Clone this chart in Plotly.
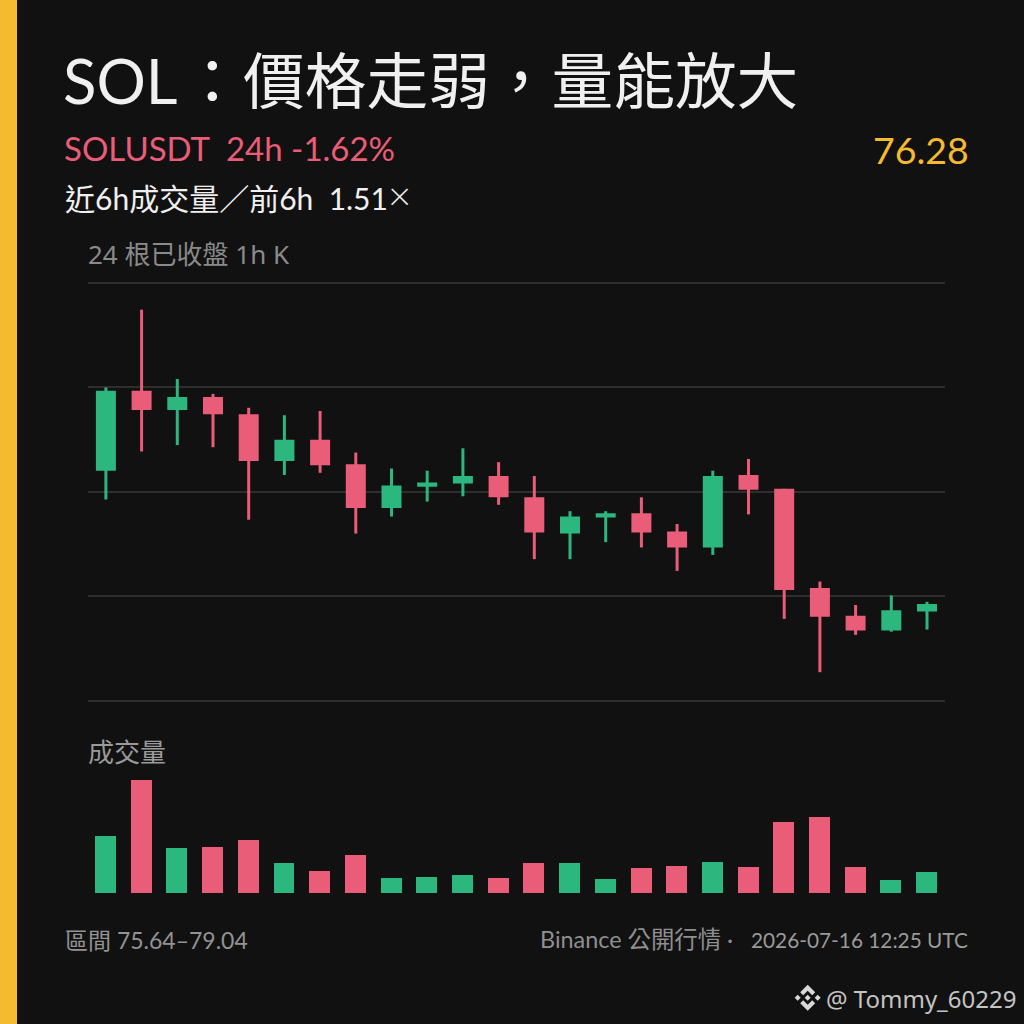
import plotly.graph_objects as go

hours = list(range(24))
opens = [77.53,78.28,78.10,78.22,78.06,77.62,77.82,77.59,77.18,77.38,77.41,77.48,77.28,76.94,77.09,77.13,76.96,76.81,77.49,77.36,76.43,76.17,76.03,76.21]
highs = [78.31,79.04,78.39,78.25,78.12,78.05,78.09,77.70,77.55,77.53,77.74,77.61,77.48,77.15,77.15,77.28,77.03,77.53,77.64,77.36,76.49,76.27,76.36,76.30]
lows = [77.26,77.71,77.77,77.75,77.07,77.49,77.51,76.94,77.10,77.24,77.29,77.21,76.70,76.70,76.86,76.81,76.59,76.74,77.12,76.14,75.64,75.99,76.02,76.04]
closes = [78.28,78.10,78.22,78.06,77.62,77.82,77.58,77.18,77.39,77.42,77.48,77.28,76.95,77.10,77.13,76.95,76.81,77.48,77.35,76.41,76.16,76.03,76.22,76.28]
volumes = [57,113,45,46,53,30,22,38,15,16,18,15,30,30,14,25,27,31,26,71,76,26,13,21]
price_ticks = [75.37,76.355,77.33,78.315,79.29]

BG = "#111111"; GREEN = "#2CB77F"; RED = "#EA5D78"; YELLOW = "#F5BB30"; GRID = "#2E2E2E"
LATIN = "Lato, 'Noto Sans CJK TC', sans-serif"
NOTO = "'Noto Sans', 'Noto Sans CJK TC', sans-serif"

def px(x): return x / 1024
def py(y): return 1 - y / 1024

fig = go.Figure()

# wicks
for color, test in ((GREEN, lambda o, c: c >= o), (RED, lambda o, c: c < o)):
    wx, wy = [], []
    for h, o, hi, lo, c in zip(hours, opens, highs, lows, closes):
        if test(o, c):
            wx += [h, h, None]; wy += [lo, hi, None]
    fig.add_trace(go.Scatter(x=wx, y=wy, mode="lines", line=dict(color=color, width=3),
                             xaxis="x", yaxis="y", hoverinfo="skip", showlegend=False))

fig.add_trace(go.Candlestick(
    x=hours, open=opens, high=highs, low=lows, close=closes, xaxis="x", yaxis="y",
    increasing=dict(line=dict(color=GREEN, width=0), fillcolor=GREEN),
    decreasing=dict(line=dict(color=RED, width=0), fillcolor=RED),
    showlegend=False))

fig.add_trace(go.Bar(
    x=hours, y=volumes, width=0.588, xaxis="x2", yaxis="y2", showlegend=False,
    marker=dict(color=[GREEN if c >= o else RED for o, c in zip(opens, closes)], line=dict(width=0))))

def note(text, x, y, size, color, family=LATIN, anchor="left"):
    fig.add_annotation(text=text, x=px(x), y=py(y), xref="paper", yref="paper", showarrow=False,
                       xanchor=anchor, yanchor="middle", align=anchor,
                       font=dict(size=size, color=color, family=family))

note("SOL\u200a：價格走弱，量能放大", 61, 80, 61.7, "#F0F0F0")
note("SOLUSDT  24h -1.62%", 62, 148, 33, RED)
note("76.28", 971, 149, 37.5, YELLOW, anchor="right")
note("近6h成交量／前6h  1.51<span style=\"font-size:40px;font-weight:300\">×</span>", 63, 195, 30, "#F0F0F0")
note("24 根已收盤 1h K", 86, 254, 26, "#8A8A8A", NOTO)
note("成交量", 86, 752, 26, "#9A9A9A", NOTO)
note("區間 75.64–79.04", 63, 940, 23, "#939393")
note("Binance 公開行情 ·", 735, 939, 23.4, "#8F8F8F", anchor="right")
note("2026-07-16 12:25 UTC", 970, 939, 20.8, "#9A9A9A", anchor="right")
note("@ Tommy_60229", 1018, 998, 24, "#C4C4C4", NOTO, anchor="right")

shapes = [dict(type="rect", xref="paper", yref="paper", x0=0, x1=px(17), y0=0, y1=1,
               fillcolor=YELLOW, line=dict(width=0), layer="below")]
cx, cy = 807.7, 997.7
logo_parts = [
    [(0,-13),(7.5,-5.5),(4.5,-2.5),(0,-7),(-4.5,-2.5),(-7.5,-5.5)],
    [(0,13),(7.5,5.5),(4.5,2.5),(0,7),(-4.5,2.5),(-7.5,5.5)],
    [(-13,0),(-10,-3),(-7,0),(-10,3)],
    [(13,0),(10,-3),(7,0),(10,3)],
    [(0,-3),(3,0),(0,3),(-3,0)],
]
for part in logo_parts:
    d = "M " + " L ".join(f"{px(cx+a):.5f},{py(cy+b):.5f}" for a, b in part) + " Z"
    shapes.append(dict(type="path", xref="paper", yref="paper", path=d,
                       fillcolor="#D8D8D8", line=dict(width=0)))

xr_price = [-0.501, 23.504]
xr_volume = [-0.490, 23.515]
# 2 px of slack above and below the outer gridlines, so they are not dropped at the range edge
ypad = 2 * (price_ticks[-1] - price_ticks[0]) / 418
fig.update_layout(
    width=1024, height=1024, autosize=False, margin=dict(l=0, r=0, t=0, b=0, pad=0),
    paper_bgcolor=BG, plot_bgcolor=BG, showlegend=False, shapes=shapes,
    boxgap=0.44, boxgroupgap=0, bargap=0,
    font=dict(family=LATIN, color="#F0F0F0"),
    xaxis=dict(domain=[px(88), px(945)], range=xr_price, visible=False, rangeslider=dict(visible=False), anchor="y"),
    yaxis=dict(domain=[py(703), py(281)], range=[price_ticks[0] - ypad, price_ticks[-1] + ypad], tickvals=price_ticks,
               showticklabels=False, showgrid=True, gridcolor=GRID, gridwidth=2, zeroline=False, showline=False, ticks="", anchor="x"),
    xaxis2=dict(domain=[px(88), px(945)], range=xr_volume, visible=False, anchor="y2"),
    yaxis2=dict(domain=[py(893), py(780)], range=[0, max(volumes)], visible=False, anchor="x2"),
)
fig.write_html("out.html", post_script="document.body.style.margin='0';document.body.style.background='#111111';", config=dict(displayModeBar=False))
